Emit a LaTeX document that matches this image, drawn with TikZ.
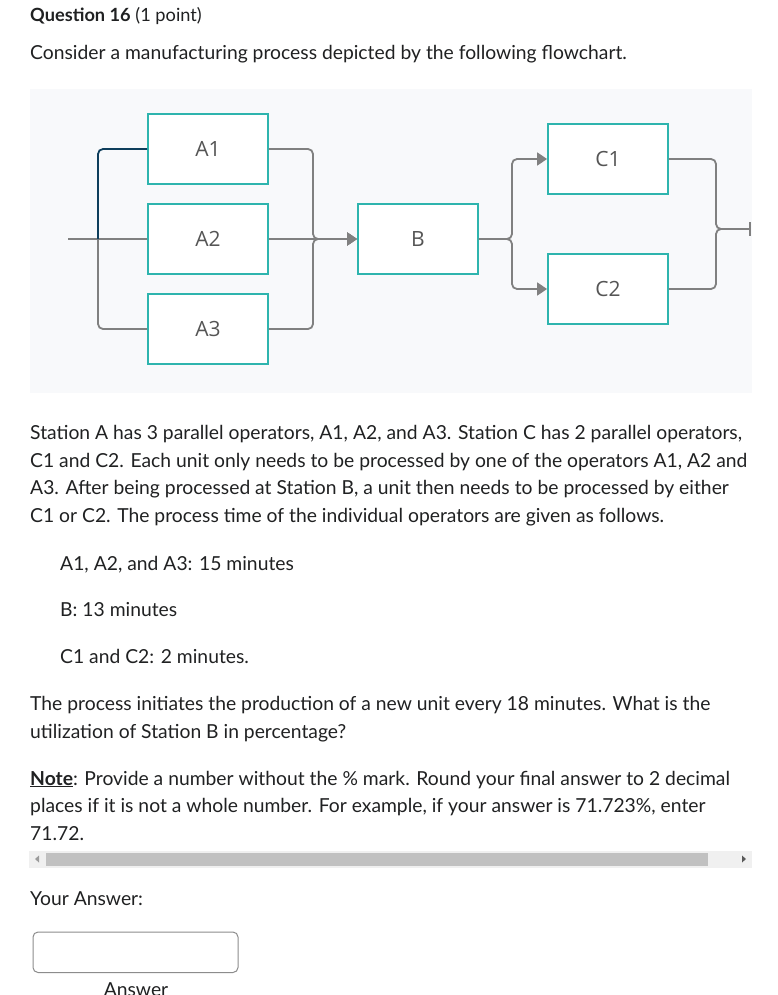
\documentclass[tikz,border=0pt]{standalone}
\usepackage{fontspec}
\usepackage{xcolor}
\usepackage{tikz}
\usetikzlibrary{
    shapes,
    positioning,
    calc,
    arrows,
    arrows.meta
}
\newfontfamily\latofont{Lato}
\newfontfamily\boxfont{Open Sans}
\definecolor{ink}{HTML}{202122}
\definecolor{panel}{HTML}{F8F9FB}
\definecolor{teal}{HTML}{2EB4AE}
\definecolor{wire}{HTML}{808080}
\definecolor{navy}{HTML}{0E3E5C}
\definecolor{boxtext}{HTML}{555555}
\definecolor{track}{HTML}{F0F0F0}
\definecolor{thumb}{HTML}{C1C1C1}
\tikzset{
  station/.style = {
      draw=teal,
      line width=1.8pt,
      rectangle,
      fill=white,
      minimum width=120pt,
      minimum height=70pt,
      inner sep=0pt,
      font=\boxfont\fontsize{21}{24}\selectfont,
      text=boxtext
  },
  flow/.style = {
      draw=wire,
      line width=1.8pt,
      rounded corners=5pt
  },
  tip/.style = {
      -{Triangle[length=10pt,width=13pt]}
  },
  line/.style = {
      anchor=base west,
      inner sep=0pt,
      text=ink,
      font=\latofont\fontsize{19.3}{22}\selectfont
  }
}
\begin{document}
\begin{tikzpicture}[x=1pt,y=-1pt]
    \useasboundingbox[fill=white] (0,0) rectangle (778,995);
    % Header
    \node[line, font=\latofont\fontsize{18.2}{22}\selectfont] (title) at (30,22)
        {\textbf{Question 16} (1 point)};
    \node[line] (intro) at (30,60)
        {Consider a manufacturing process depicted by the following flowchart.};
    % Panel
    \fill[panel] (30,89) rectangle (752,393);
    % Nodes
    \node[station] (A1) at (208,149) {A1};
    \node[station] (A2) at (208,239) {A2};
    \node[station] (A3) at (208,329) {A3};
    \node[station] (B) at (418,239) {B};
    \node[station] (C1) at (608,159) {C1};
    \node[station] (C2) at (608,289) {C2};
    \coordinate (in) at (68,239);
    \coordinate (split) at (98,239);
    \coordinate (ja) at (313,239);
    \coordinate (jb) at (512,239);
    \coordinate (jc) at (716,229);
    \coordinate (out) at (751,229);
    % Edges
    \path[flow]
    (in) -- (A2.west)
    (split) |- (A3.west);
    \path[flow, draw=navy]
    (A1.west) -| (split);
    \draw[flow, tip] (A1.east) -| (ja) -- (B.west);
    \draw[flow, tip] (A3.east) -| (ja) -- (B.west);
    \draw[flow, tip] (A2.east) -- (B.west);
    \draw[flow, tip] (B.east) -- (jb) |- (C1.west);
    \draw[flow, tip] (B.east) -- (jb) |- (C2.west);
    \draw[flow, -{Bar[width=14pt]}] (C1.east) -| (jc) -- (out);
    \draw[flow, -{Bar[width=14pt]}] (C2.east) -| (jc) -- (out);
    % Question text
    \node[line] (s1) at (30,439.3)
        {Station A has 3 parallel operators, A1, A2, and A3. Station C has 2 parallel operators,};
    \node[line] (s2) at (30,467)
        {C1 and C2. Each unit only needs to be processed by one of the operators A1, A2 and};
    \node[line] (s3) at (30,494.7)
        {A3. After being processed at Station B, a unit then needs to be processed by either};
    \node[line] (s4) at (30,522.4)
        {C1 or C2. The process time of the individual operators are given as follows.};
    \node[line] (tA) at (60,570) {A1, A2, and A3: 15 minutes};
    \node[line] (tB) at (60,616.7) {B: 13 minutes};
    \node[line] (tC) at (60,663.3) {C1 and C2: 2 minutes.};
    \node[line] (q1) at (30,710.7)
        {The process initiates the production of a new unit every 18 minutes. What is the};
    \node[line] (q2) at (30,738.3) {utilization of Station B in percentage?};
    \node[line] (n1) at (30,785)
        {\underline{\textbf{Note}}: Provide a number without the \% mark. Round your final answer to 2 decimal};
    \node[line] (n2) at (30,812.7)
        {places if it is not a whole number. For example, if your answer is 71.723\%, enter};
    \node[line] (n3) at (30,840.4) {71.72.};
    % Scroll bar
    \fill[track] (29,851) rectangle (752,867.5);
    \fill[thumb] (46,852.7) rectangle (707.7,865.7);
    \fill[thumb!80!black] (35,859) -- (39,855.5) -- (39,862.5) -- cycle;
    \fill[black!65] (746,859) -- (742,855.5) -- (742,862.5) -- cycle;
    % Answer field
    \node[line] (your) at (30,905) {Your Answer:};
    \draw[black!45, line width=1pt, rounded corners=5pt] (33,932) rectangle (238,972.5);
    \node[line, anchor=base] (ans) at (136,996) {Answer};
\end{tikzpicture}
\end{document}
